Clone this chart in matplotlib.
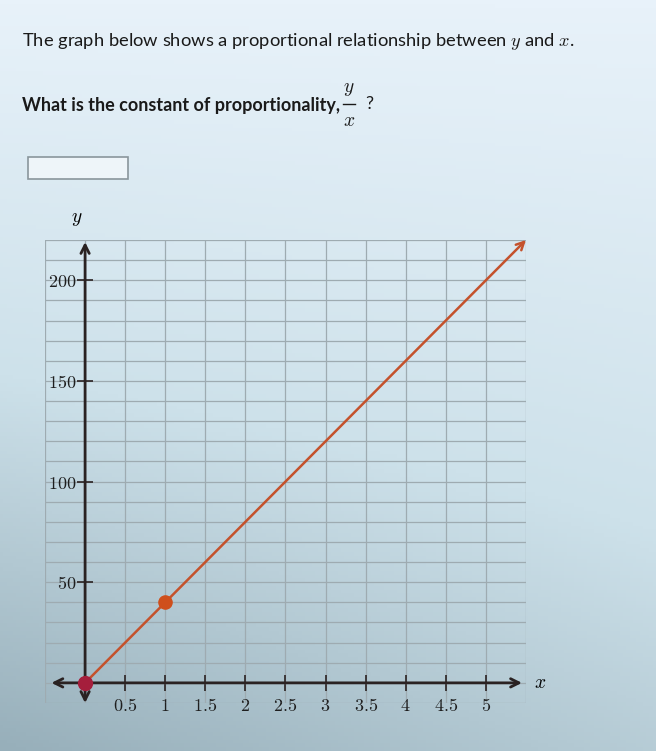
import numpy as np
import matplotlib
matplotlib.use("Agg")
import matplotlib.pyplot as plt
import matplotlib.patheffects as pe
from matplotlib.lines import Line2D
from matplotlib.ticker import MultipleLocator
from matplotlib.colors import LinearSegmentedColormap

plt.rcParams["mathtext.fontset"] = "cm"

# data
x_ticks = [0.5, 1, 1.5, 2, 2.5, 3, 3.5, 4, 4.5, 5]
x_tick_labels = ["0.5", "1", "1.5", "2", "2.5", "3", "3.5", "4", "4.5", "5"]
y_ticks = [50, 100, 150, 200]
y_tick_labels = ["50", "100", "150", "200"]
point_x = [0, 1]
point_y = [0, 40]
slope = 40
x_end = 5.5

W, H = 656, 751
fig = plt.figure(figsize=(W / 100, H / 100), dpi=100)


def px(x, y):
    """pixel position of the picture -> figure fraction"""
    return x / W, 1 - y / H


# photo-like background
bg = fig.add_axes([0, 0, 1, 1], zorder=-5)
yy, xx = np.mgrid[0:1:200j, 0:1:200j]
shade = 0.72 * yy + 0.3 * (1 - xx) * yy
cmap = LinearSegmentedColormap.from_list("bg", ["#e8f2fa", "#cde1ea", "#97afba"])
bg.imshow(shade, cmap=cmap, aspect="auto", extent=[0, 1, 0, 1], origin="upper")
bg.axis("off")

# question text
ink = "#1a1a1a"
fig.text(*px(22, 42), "The graph below shows a proportional relationship between $y$ and $x$.",
         family="Lato", fontsize=13.2, color=ink, va="center")
fig.text(*px(22, 106), "What is the constant of proportionality,",
         family="Lato", fontsize=13, fontweight="bold", color=ink, va="center")
fig.text(*px(349, 88), "$y$", fontsize=14, color=ink, ha="center", va="center")
fig.add_artist(Line2D([343 / W, 355 / W], [1 - 104 / H, 1 - 104 / H],
                      color=ink, lw=1, transform=fig.transFigure))
fig.text(*px(349, 121), "$x$", fontsize=14, color=ink, ha="center", va="center")
fig.text(*px(365, 104), "?", family="Lato", fontsize=13, color=ink, va="center")
x0, y0 = px(28, 179)
box = plt.Rectangle((x0, y0), 100 / W, 22 / H, transform=fig.transFigure,
                    facecolor="#eef5f9", edgecolor="#8a969c", linewidth=1.2)
fig.patches.append(box)

# the graph
ax = fig.add_axes([45 / W, 48 / H, 481 / W, 463 / H])
ax.set_facecolor("none")
ax.set_xlim(-0.5, x_end)
ax.set_ylim(-10, 220)

ax.xaxis.set_minor_locator(MultipleLocator(0.5))
ax.yaxis.set_minor_locator(MultipleLocator(10))
ax.set_xticks(x_ticks, [f"${t}$" for t in x_tick_labels])
ax.set_yticks(y_ticks, [f"${t}$" for t in y_tick_labels])
ax.grid(which="both", color="#9eabb1", linewidth=0.9)
ax.tick_params(which="minor", length=0)
ax.tick_params(which="major", direction="inout", length=11, width=1.2,
               color="#2a2222", labelsize=13, labelcolor="#1e1e1e")
ax.tick_params(axis="x", pad=5)
ax.tick_params(axis="y", pad=1)
for lab in ax.get_xticklabels() + ax.get_yticklabels():
    lab.set_path_effects([pe.withStroke(linewidth=0.7, foreground="#1e1e1e")])

for side in ["top", "right"]:
    ax.spines[side].set_visible(False)
ax.spines["left"].set_position(("data", 0))
ax.spines["bottom"].set_position(("data", 0))
ax.spines["left"].set_visible(False)
ax.spines["bottom"].set_visible(False)

# axes with arrow heads
axis_style = dict(arrowstyle="<->", color="#2a2222", lw=2, mutation_scale=15,
                  shrinkA=0, shrinkB=0)
ax.annotate("", xy=(5.45, 0), xytext=(-0.42, 0), arrowprops=axis_style)
ax.annotate("", xy=(0, 219), xytext=(0, -10), arrowprops=axis_style)
ax.text(5.6, 0, "$x$", fontsize=14, va="center", ha="left", clip_on=False)
ax.text(-0.1, 226, "$y$", fontsize=14, va="bottom", ha="center", clip_on=False)

# proportional line with arrow head
ax.annotate("", xy=(x_end, slope * x_end), xytext=(0, 0),
            arrowprops=dict(arrowstyle="->", color="#c4522c", lw=1.8,
                            mutation_scale=14, shrinkA=0, shrinkB=0))
ax.scatter(point_x[:1], point_y[:1], s=100, color="#a51e3c", zorder=5)
ax.scatter(point_x[1:], point_y[1:], s=90, color="#cf4f1c", zorder=5)

fig.savefig("out.png", dpi=100)
